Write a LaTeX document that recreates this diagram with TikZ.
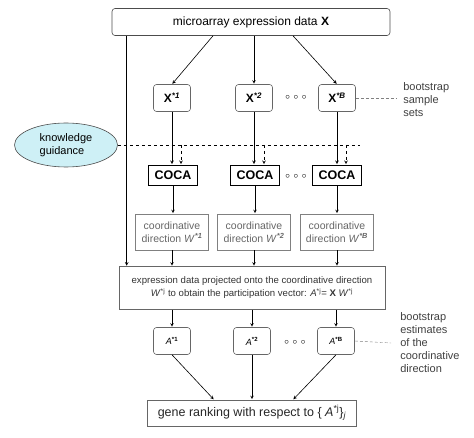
\documentclass[tikz,border=0pt]{standalone}
\usepackage{fontspec}
\setmainfont{Liberation Sans}
\usetikzlibrary{positioning,shapes.geometric}
\definecolor{guide}{RGB}{206,240,246}

\begin{document}
\begin{tikzpicture} [x=1pt,y=-1pt,auto,semithick,>=stealth]
        \tikzstyle{databox}=[draw=black!70, rounded corners=3pt, minimum width=278pt, minimum height=27pt, font=\fontsize{12}{14}\selectfont]
        \tikzstyle{samplebox}=[draw=black!60, rounded corners=3pt, minimum width=37pt, minimum height=27pt, font=\fontsize{12}{14}\selectfont]
        \tikzstyle{cocabox}=[draw, line width=0.9pt, minimum width=49pt, minimum height=20pt, inner sep=1pt, font=\fontsize{12.5}{14}\selectfont\bfseries]
        \tikzstyle{dirbox}=[draw=black!50, text=black!60, align=center, minimum width=73pt, minimum height=36pt, inner sep=1pt, font=\fontsize{10.5}{12.5}\selectfont]
        \tikzstyle{projbox}=[draw=black!60, text=black!80, align=center, minimum width=266pt, minimum height=43pt, inner sep=1pt, font=\fontsize{9.6}{13}\selectfont]
        \tikzstyle{estbox}=[draw=black!60, rounded corners=3pt, minimum width=37pt, minimum height=27pt, font=\fontsize{9}{10}\selectfont]
        \tikzstyle{rankbox}=[draw=black!60, text=black!85, minimum width=209pt, minimum height=26pt, inner sep=1pt, font=\fontsize{12.5}{14}\selectfont]
        \tikzstyle{note}=[align=left, anchor=west, text=black!75, inner sep=1pt, font=\fontsize{11}{13}\selectfont]
        \tikzstyle{dots}=[inner sep=0pt, font=\small]
        \useasboundingbox (0,0) rectangle (474,438);

        % data and bootstrap samples
        \node[databox] (Data) at (251,22) {microarray expression data \textbf{X}};
        \node[samplebox] (X1) at (172,98) {\textbf{X}\textsuperscript{\textbf{\textit{*1}}}};
        \node[samplebox] (X2) at (254,98) {\textbf{X}\textsuperscript{\textbf{\textit{*2}}}};
        \node[samplebox] (XB) at (337,98) {\textbf{X}\textsuperscript{\textbf{\textit{*B}}}};
        \node[dots] (Xdots) at (296,97) {$\circ\,\circ\,\circ$};
        \node[note] (SampleNote) at (402,100) {bootstrap\\sample\\sets};

        \node[ellipse, draw=black!70, fill=guide, minimum width=103pt, minimum height=44pt, align=left, inner sep=1pt, font=\fontsize{11}{13.5}\selectfont] (Guide) at (66,145) {knowledge\\guidance};

        % COCA
        \node[cocabox] (Coca1) at (173,175) {COCA};
        \node[cocabox] (Coca2) at (255,175) {COCA};
        \node[cocabox] (CocaB) at (337,175) {COCA};
        \node[dots] (Cocadots) at (296,176) {$\circ\,\circ\,\circ$};

        \node[dirbox] (W1) at (172,232) {coordinative\\direction \textit{W}\textsuperscript{\textbf{\textit{*1}}}};
        \node[dirbox] (W2) at (254,232) {coordinative\\direction \textit{W}\textsuperscript{\textbf{\textit{*2}}}};
        \node[dirbox] (WB) at (337,232) {coordinative\\direction \textit{W}\textsuperscript{\textbf{\textit{*B}}}};

        \node[projbox] (Proj) at (252,288) {expression data projected onto the coordinative direction\\
          \textit{W}\textsuperscript{*j} to obtain the participation vector: \textit{A}\textsuperscript{*j}= \textbf{X} \textit{W}\textsuperscript{*j}};

        % estimates
        \node[estbox] (A1) at (172,341) {\textit{A}\textsuperscript{\textbf{*1}}};
        \node[estbox] (A2) at (252,341) {\textit{A}\textsuperscript{\textbf{*2}}};
        \node[estbox] (AB) at (336,341) {\textit{A}\textsuperscript{\textbf{*B}}};
        \node[dots] (Adots) at (295,342) {$\circ\,\circ\,\circ$};
        \node[note] (EstNote) at (399,343) {bootstrap\\estimates\\of the\\coordinative\\direction};

        \node[rankbox] (Rank) at (252,413) {gene ranking with respect to \{ \textit{A}\textsuperscript{*j}\}\textsubscript{\textit{j}}};

        \coordinate (Bypass) at ([xshift=8pt]Proj.north west);
        \coordinate (Junction) at (Guide.east -| CocaB.north east);

        \path[->,shorten >=0.5pt]
        ([xshift=-38pt]Data.south) edge (X1.north)
        (Data.south -| X2.north) edge (X2.north)
        ([xshift=42pt]Data.south) edge (XB.north)
        (Data.south -| Bypass) edge (Bypass)
        (X1) edge (X1 |- Coca1.north)
        (X2) edge (X2 |- Coca2.north)
        (XB) edge (XB |- CocaB.north)
        (Coca1) edge (Coca1 |- W1.north)
        (Coca2) edge (Coca2 |- W2.north)
        (CocaB) edge (CocaB |- WB.north)
        (W1) edge (W1 |- Proj.north)
        (W2) edge (W2 |- Proj.north)
        (WB) edge (WB |- Proj.north)
        (Proj.south -| A1) edge (A1)
        (Proj.south -| A2) edge (A2)
        (Proj.south -| AB) edge (AB)
        (A1.south) edge ([xshift=-38pt]Rank.north)
        (A2.south) edge (A2 |- Rank.north)
        (AB.south) edge ([xshift=41pt]Rank.north);

        % knowledge guidance
        \draw[dashed, line width=0.9pt] (Guide.east) -- ([xshift=-2pt]Junction);
        \path[->,dashed,shorten >=0.5pt]
        ([xshift=8pt]Guide.east -| Coca1.north) edge ([xshift=8pt]Coca1.north)
        ([xshift=9pt]Guide.east -| Coca2.north) edge ([xshift=9pt]Coca2.north)
        ([xshift=9pt]Guide.east -| CocaB.north) edge ([xshift=9pt]CocaB.north);

        \draw[densely dashed, thin, black!50] (XB.east) -- ([xshift=-5pt]SampleNote.west |- XB.east);
        \draw[densely dashed, thin, black!50] (AB.east) -- ([xshift=-8pt]EstNote.west);
      \end{tikzpicture}
\end{document}
